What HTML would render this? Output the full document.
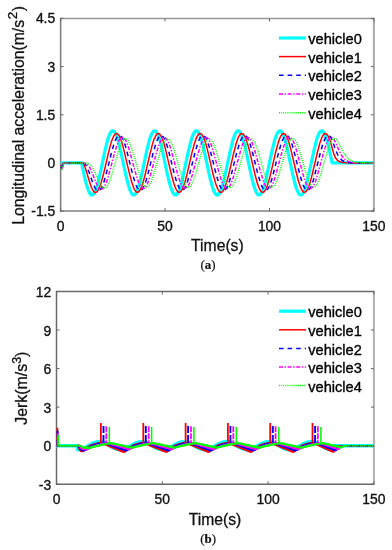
<!DOCTYPE html>
<html><head><meta charset="utf-8"><title>Vehicle platoon acceleration and jerk</title>
<style>
html,body{margin:0;padding:0;background:#fff;width:392px;height:550px;overflow:hidden}
svg{display:block}
.tk{font-family:"Liberation Sans",Arial,sans-serif;font-size:13.9px;fill:#111;stroke:#111;stroke-width:0.35px}
.lg{font-family:"Liberation Sans",Arial,sans-serif;font-size:14.6px;fill:#000;stroke:#000;stroke-width:0.35px}
.al{font-family:"Liberation Sans",Arial,sans-serif;font-size:15.7px;fill:#111;stroke:#111;stroke-width:0.3px}
.cap{font-family:"Liberation Serif","Times New Roman",serif;font-size:12.9px;font-weight:normal;fill:#111;stroke:#111;stroke-width:0.2px}
</style></head><body>
<svg width="392" height="550" viewBox="0 0 392 550">
<defs><clipPath id="c1"><rect x="60.6" y="18.45" width="313.3" height="192.7"/></clipPath><clipPath id="c2"><rect x="56.5" y="291.5" width="317.4" height="192.8"/></clipPath></defs>
<rect width="392" height="550" fill="#fff"/>
<path d="M373.9 17.849999999999998V211.7" stroke="#aaa" stroke-width="2" fill="none"/>
<path d="M374.29999999999995 18.45H60.6" stroke="#999" stroke-width="1.5" fill="none"/>
<path d="M60.6 211.1H374.29999999999995" stroke="#808080" stroke-width="1.5" fill="none"/>
<path d="M60.6 17.75V211.79999999999998" stroke="#7a7a7a" stroke-width="1.5" fill="none"/>
<path d="M60.6 211.1v-3M60.6 18.45v3" stroke="#666" stroke-width="1"/>
<path d="M165.0 211.1v-3M165.0 18.45v3" stroke="#666" stroke-width="1"/>
<path d="M269.5 211.1v-3M269.5 18.45v3" stroke="#666" stroke-width="1"/>
<path d="M373.9 211.1v-3M373.9 18.45v3" stroke="#666" stroke-width="1"/>
<path d="M60.6 211.1h3M373.9 211.1h-3" stroke="#666" stroke-width="1"/>
<path d="M60.6 162.9h3M373.9 162.9h-3" stroke="#666" stroke-width="1"/>
<path d="M60.6 114.8h3M373.9 114.8h-3" stroke="#666" stroke-width="1"/>
<path d="M60.6 66.6h3M373.9 66.6h-3" stroke="#666" stroke-width="1"/>
<path d="M60.6 18.4h3M373.9 18.4h-3" stroke="#666" stroke-width="1"/>
<path d="M60.6 162.9 81.5 162.9 85.1 179.5 86.5 184.9 87.8 189.0 89.1 192.1 90.3 194.1 90.9 194.7 91.6 195.0 92.2 195.0 92.8 194.8 93.4 194.3 94.0 193.6 95.1 191.4 96.4 188.1 97.7 183.8 100.0 174.1 105.4 148.9 106.8 143.3 108.0 138.9 109.3 135.3 110.5 132.8 111.6 131.3 112.2 131.0 112.8 130.8 113.4 130.9 113.9 131.3 115.1 132.7 116.3 135.0 117.5 138.3 118.7 142.8 120.1 148.5 125.8 174.8 128.3 184.8 129.7 189.3 131.0 192.4 131.6 193.5 132.3 194.3 132.9 194.8 133.5 195.0 134.1 195.0 134.7 194.7 135.9 193.3 137.1 191.0 138.3 187.7 139.6 183.2 141.0 177.5 146.7 151.1 149.1 141.0 150.5 136.6 151.9 133.5 153.1 131.6 153.8 131.1 154.4 130.8 155.0 130.9 155.6 131.2 156.2 131.7 156.7 132.5 158.0 134.8 159.2 138.2 160.5 142.6 161.9 148.4 167.5 174.8 170.0 184.8 171.4 189.2 172.7 192.3 174.0 194.3 174.6 194.8 175.3 195.0 175.9 195.0 176.4 194.7 177.0 194.2 177.6 193.4 178.8 191.0 180.1 187.7 181.4 183.2 182.8 177.5 188.4 151.1 190.9 141.1 192.3 136.7 193.6 133.6 194.9 131.6 195.5 131.1 196.1 130.8 196.7 130.9 197.3 131.1 197.9 131.7 198.5 132.5 199.7 134.8 201.0 138.2 202.3 142.6 203.7 148.4 209.3 174.8 211.8 184.8 213.2 189.1 214.5 192.3 215.7 194.2 216.4 194.8 217.0 195.0 217.6 195.0 218.2 194.7 218.8 194.2 219.4 193.4 220.6 191.1 221.8 187.7 223.1 183.2 224.6 177.5 230.2 151.2 232.6 141.2 234.0 136.8 235.3 133.6 236.6 131.7 237.2 131.1 237.9 130.9 238.4 130.9 239.1 131.1 239.6 131.6 240.2 132.4 241.5 134.8 242.7 138.2 244.0 142.7 245.5 148.5 251.1 174.7 253.5 184.6 254.9 189.0 256.2 192.2 257.4 194.1 258.1 194.7 258.7 195.0 259.3 195.0 259.9 194.8 260.5 194.3 261.1 193.5 262.3 191.1 263.6 187.7 264.9 183.2 266.4 177.4 271.9 151.3 274.4 141.3 275.7 137.0 277.0 133.8 278.3 131.8 278.9 131.2 279.5 130.9 280.1 130.8 280.7 131.1 281.4 131.6 282.0 132.4 283.2 134.7 284.5 138.2 285.8 142.7 287.2 148.5 292.8 174.6 295.2 184.5 296.6 188.9 297.9 192.0 299.1 194.0 299.7 194.6 300.3 195.0 300.9 195.0 301.6 194.8 302.2 194.3 302.8 193.6 304.1 191.2 305.4 187.6 306.7 183.1 308.1 177.3 313.7 151.5 316.1 141.6 317.4 137.3 318.7 134.1 319.9 132.0 320.5 131.4 321.1 131.0 321.7 130.8 322.3 131.0 322.9 131.3 323.5 132.0 324.7 134.1 326.0 137.3 327.2 141.4 328.6 146.7 332.1 162.9 373.9 162.9" fill="none" stroke="#00ffff" stroke-width="3.2" stroke-linejoin="round"/>
<path d="M60.6 165.5 62.1 165.4 63.3 163.3 63.7 162.9 82.4 162.9 82.9 163.1 83.4 163.6 83.9 164.5 85.1 167.3 89.8 182.6 90.9 185.9 92.0 188.5 93.1 190.6 94.2 191.9 94.8 192.3 95.4 192.5 95.9 192.4 96.4 192.2 97.0 191.8 97.6 191.1 98.8 189.1 100.1 186.1 101.3 182.1 103.7 173.3 109.1 150.1 110.5 144.9 111.7 140.9 113.0 137.6 114.2 135.4 115.3 134.0 115.9 133.7 116.5 133.5 117.1 133.6 117.6 133.9 118.8 135.2 119.9 137.3 121.1 140.3 122.4 144.4 123.8 149.6 129.5 173.8 132.0 183.1 133.4 187.1 134.7 189.9 136.0 191.7 136.6 192.1 137.2 192.3 137.8 192.3 138.4 192.0 139.6 190.8 140.8 188.7 142.0 185.6 143.3 181.5 144.7 176.3 150.4 152.1 152.8 142.9 154.2 138.8 155.6 136.0 156.8 134.2 157.5 133.7 158.1 133.5 158.7 133.6 159.3 133.8 160.4 135.1 161.6 137.2 162.9 140.3 164.2 144.3 165.6 149.6 171.2 173.8 173.7 183.0 175.1 187.0 176.4 189.9 177.7 191.6 178.3 192.1 179.0 192.3 179.5 192.3 180.1 192.0 180.7 191.6 181.3 190.8 182.5 188.7 183.8 185.6 185.1 181.5 186.5 176.3 192.1 152.1 194.6 142.9 196.0 138.9 197.3 136.1 198.6 134.3 199.2 133.8 199.8 133.5 200.4 133.6 201.0 133.8 201.6 134.3 202.2 135.0 203.4 137.2 204.7 140.3 206.0 144.3 207.4 149.6 213.0 173.8 215.5 182.9 216.9 186.9 218.2 189.8 219.4 191.6 220.1 192.1 220.7 192.3 221.3 192.3 221.9 192.1 222.5 191.6 223.1 190.8 224.3 188.7 225.5 185.6 226.8 181.5 228.3 176.3 233.9 152.2 236.3 143.0 237.7 139.0 239.0 136.1 240.3 134.3 240.9 133.8 241.5 133.6 242.1 133.6 242.7 133.8 243.3 134.3 243.9 135.0 245.2 137.1 246.4 140.3 247.7 144.4 249.2 149.7 254.8 173.7 257.2 182.8 258.6 186.8 259.9 189.7 261.1 191.5 261.8 192.0 262.4 192.3 263.0 192.3 263.6 192.1 264.2 191.6 264.8 190.9 266.0 188.8 267.3 185.6 268.6 181.5 270.1 176.2 275.6 152.3 278.1 143.1 279.4 139.1 280.7 136.2 282.0 134.4 282.6 133.9 283.2 133.6 283.8 133.5 284.4 133.8 285.0 134.2 285.7 134.9 286.9 137.1 288.2 140.3 289.5 144.4 290.9 149.7 296.5 173.5 298.9 182.6 300.3 186.6 301.5 189.5 302.8 191.4 303.4 192.0 304.0 192.3 304.6 192.3 305.3 192.1 305.9 191.7 306.5 191.0 307.8 188.8 309.1 185.5 310.4 181.4 311.8 176.1 317.4 152.5 319.7 143.5 321.1 139.5 322.3 136.6 323.5 134.6 324.1 134.0 324.8 133.7 325.7 133.6 326.6 134.0 327.5 135.1 328.5 136.7 329.5 139.1 330.6 142.3 333.5 152.9 334.6 155.9 335.4 157.7 336.4 159.1 337.5 160.3 338.7 161.2 340.0 161.8 341.6 162.3 343.5 162.6 345.9 162.8 352.5 162.9 373.9 162.9" fill="none" stroke="#ff0000" stroke-width="1.5" stroke-linejoin="round"/>
<path d="M60.6 167.4 61.9 167.4 62.1 167.3 62.4 166.5 63.3 163.6 63.7 162.9 82.8 162.9 83.6 163.0 84.3 163.3 85.1 164.0 85.8 164.9 87.4 167.9 88.9 171.8 92.7 182.7 93.9 185.4 94.9 187.6 96.0 189.3 97.1 190.4 98.2 190.8 99.2 190.5 100.4 189.5 101.6 187.6 102.9 184.7 104.2 181.0 106.5 172.7 111.9 151.0 113.3 146.2 114.6 142.3 115.8 139.3 117.0 137.2 118.2 135.9 118.8 135.6 119.4 135.5 119.9 135.6 120.5 135.8 121.6 137.0 122.8 139.0 124.0 141.8 125.3 145.6 126.7 150.5 132.3 173.1 134.8 181.7 136.2 185.5 137.5 188.1 138.8 189.8 139.5 190.2 140.1 190.4 140.7 190.4 141.3 190.1 142.4 189.0 143.6 187.0 144.9 184.1 146.2 180.3 147.6 175.4 153.2 152.8 155.7 144.2 157.1 140.4 158.4 137.8 159.7 136.1 160.3 135.7 161.0 135.5 161.5 135.5 162.1 135.8 163.3 136.9 164.5 138.9 165.7 141.8 167.0 145.6 168.5 150.5 174.1 173.1 176.6 181.7 178.0 185.4 179.3 188.1 180.6 189.7 181.2 190.2 181.8 190.4 182.4 190.4 183.0 190.1 184.2 189.0 185.4 187.0 186.6 184.1 187.9 180.3 189.3 175.4 195.0 152.8 197.4 144.3 198.8 140.5 200.1 137.8 201.4 136.2 202.1 135.7 202.7 135.5 203.3 135.5 203.9 135.7 205.1 136.9 206.3 138.9 207.5 141.8 208.8 145.6 210.2 150.5 215.9 173.1 218.3 181.6 219.7 185.4 221.0 188.0 222.3 189.7 222.9 190.2 223.6 190.4 224.1 190.4 224.7 190.1 225.9 189.0 227.2 187.0 228.4 184.1 229.7 180.3 231.1 175.4 236.7 152.9 239.2 144.3 240.6 140.6 241.9 137.9 243.1 136.2 243.8 135.7 244.4 135.5 245.0 135.5 245.6 135.7 246.2 136.2 246.8 136.8 248.0 138.8 249.3 141.8 250.6 145.6 252.0 150.5 257.6 173.0 260.1 181.5 261.4 185.3 262.7 187.9 264.0 189.6 264.6 190.1 265.2 190.4 265.9 190.4 266.5 190.2 267.1 189.7 267.7 189.1 268.9 187.1 270.2 184.1 271.5 180.2 272.9 175.3 278.5 153.0 280.9 144.5 282.3 140.8 283.6 138.0 284.8 136.3 285.4 135.8 286.1 135.5 286.7 135.5 287.3 135.7 287.9 136.1 288.5 136.8 289.8 138.8 291.1 141.8 292.4 145.6 293.8 150.5 299.4 172.8 301.8 181.3 303.1 185.0 304.4 187.7 305.6 189.5 306.2 190.0 306.9 190.3 307.5 190.4 308.1 190.2 308.7 189.8 309.4 189.2 310.6 187.1 312.0 184.0 313.3 180.2 314.7 175.3 320.2 153.2 322.6 144.8 323.9 141.1 325.2 138.4 326.4 136.5 327.0 135.9 327.6 135.6 328.4 135.5 329.2 135.8 330.1 136.5 331.0 137.7 332.6 141.1 335.8 150.4 337.8 154.8 338.9 156.8 340.1 158.4 341.5 159.8 342.9 160.8 344.4 161.5 346.1 162.1 348.2 162.5 350.6 162.7 357.1 162.9 373.9 162.9" fill="none" stroke="#0000ff" stroke-width="1.5" stroke-dasharray="4.6 4" stroke-linejoin="round"/>
<path d="M60.6 168.7 61.9 168.7 62.1 168.5 62.4 167.5 63.3 163.8 63.7 162.9 84.1 162.9 85.3 163.1 86.2 163.4 87.2 164.0 88.1 165.0 89.0 166.3 90.0 168.0 91.7 171.8 95.8 182.1 96.9 184.5 97.9 186.3 99.0 187.9 100.1 188.8 101.1 189.1 102.2 188.9 103.4 187.9 104.6 186.1 105.8 183.5 107.2 180.0 109.5 172.1 114.9 151.8 116.3 147.3 117.6 143.8 118.8 140.9 120.0 139.0 121.2 137.8 121.8 137.5 122.4 137.3 122.9 137.4 123.5 137.7 124.6 138.8 125.8 140.6 127.0 143.3 128.3 146.8 129.7 151.3 135.4 172.4 137.8 180.4 139.2 183.9 140.6 186.4 141.8 187.9 142.5 188.3 143.1 188.5 143.7 188.5 144.3 188.3 145.4 187.2 146.6 185.4 147.9 182.7 149.2 179.2 150.6 174.6 156.2 153.5 158.7 145.5 160.1 141.9 161.4 139.5 162.7 138.0 163.4 137.5 164.0 137.4 164.6 137.4 165.2 137.6 166.3 138.7 167.5 140.6 168.8 143.2 170.1 146.8 171.5 151.3 177.1 172.4 179.6 180.4 181.0 183.9 182.3 186.4 183.6 187.9 184.2 188.3 184.9 188.5 185.4 188.5 186.0 188.3 187.2 187.2 188.4 185.3 189.7 182.6 191.0 179.1 192.4 174.5 198.0 153.6 200.5 145.5 201.9 142.0 203.2 139.5 204.4 138.0 205.1 137.6 205.7 137.4 206.3 137.4 206.9 137.6 208.1 138.7 209.3 140.5 210.5 143.2 211.8 146.8 213.3 151.3 218.9 172.3 221.3 180.3 222.7 183.8 224.0 186.3 225.3 187.9 225.9 188.3 226.6 188.5 227.2 188.5 227.8 188.3 228.9 187.2 230.2 185.4 231.4 182.6 232.7 179.1 234.1 174.5 239.8 153.6 242.2 145.6 243.6 142.1 244.9 139.6 246.2 138.0 246.8 137.6 247.4 137.4 248.0 137.4 248.6 137.6 249.8 138.6 251.0 140.5 252.3 143.2 253.6 146.8 255.0 151.3 260.7 172.3 263.1 180.2 264.5 183.7 265.7 186.2 267.0 187.8 267.6 188.3 268.3 188.5 268.9 188.5 269.5 188.3 270.7 187.3 271.9 185.4 273.2 182.6 274.5 179.1 275.9 174.5 281.5 153.6 283.9 145.8 285.3 142.3 286.6 139.7 287.8 138.1 288.5 137.6 289.1 137.4 289.7 137.4 290.3 137.5 290.9 137.9 291.5 138.6 292.8 140.4 294.1 143.2 295.4 146.8 296.8 151.4 302.4 172.2 304.8 180.0 306.1 183.5 307.4 186.0 308.6 187.7 309.3 188.2 309.9 188.5 310.5 188.5 311.1 188.4 311.7 188.0 312.4 187.4 313.6 185.5 315.0 182.6 316.3 179.1 317.7 174.4 323.2 153.9 325.6 146.1 326.9 142.6 328.2 140.1 329.4 138.4 330.0 137.8 330.6 137.5 331.4 137.3 332.2 137.6 333.0 138.2 333.8 139.2 335.3 141.8 339.1 150.7 341.3 154.8 342.5 156.7 343.8 158.3 345.2 159.5 346.6 160.6 348.2 161.3 349.9 161.9 351.9 162.3 354.3 162.6 360.4 162.9 373.9 162.9" fill="none" stroke="#ff00ff" stroke-width="1.5" stroke-dasharray="4 1.6 1.4 1.6" stroke-linejoin="round"/>
<path d="M60.6 170.0 61.9 170.0 62.1 169.8 62.4 168.5 63.3 164.0 63.5 163.2 63.7 162.9 85.5 162.9 87.1 163.1 88.3 163.4 89.4 164.0 90.4 164.9 91.5 166.2 92.6 167.9 94.5 171.7 98.9 181.7 100.0 184.0 101.1 185.7 102.1 187.0 103.2 187.8 104.2 188.1 105.3 187.9 106.5 186.9 107.7 185.2 109.0 182.7 110.3 179.3 112.7 171.9 118.1 152.4 119.5 148.1 120.8 144.7 122.0 142.0 123.2 140.2 124.4 139.0 125.0 138.8 125.6 138.6 126.1 138.7 126.7 139.0 127.8 140.0 129.0 141.8 130.2 144.3 131.5 147.6 132.9 151.9 138.6 171.9 141.1 179.6 142.5 182.9 143.8 185.2 145.0 186.7 145.7 187.1 146.3 187.2 146.9 187.2 147.5 187.0 148.7 186.0 149.8 184.2 151.1 181.7 152.4 178.3 153.8 174.0 159.4 154.0 161.9 146.4 163.3 143.0 164.6 140.7 165.9 139.2 166.6 138.8 167.2 138.7 167.8 138.7 168.4 138.9 169.5 139.9 170.7 141.7 172.0 144.2 173.3 147.6 174.7 151.9 180.3 171.9 182.8 179.5 184.2 182.8 185.5 185.2 186.8 186.6 187.4 187.0 188.1 187.2 188.6 187.2 189.2 187.0 190.4 186.0 191.6 184.2 192.9 181.7 194.1 178.3 195.6 174.0 201.2 154.0 203.7 146.4 205.1 143.1 206.4 140.7 207.6 139.3 208.3 138.8 208.9 138.7 209.5 138.7 210.1 138.9 211.3 139.9 212.5 141.6 213.7 144.2 215.0 147.6 216.5 151.9 222.1 171.9 224.6 179.4 225.9 182.8 227.2 185.1 228.5 186.6 229.1 187.0 229.8 187.2 230.3 187.2 231.0 187.0 232.1 186.0 233.4 184.3 234.6 181.7 235.9 178.3 237.4 173.9 243.0 154.1 245.4 146.5 246.8 143.2 248.1 140.8 249.4 139.3 250.0 138.9 250.6 138.7 251.2 138.7 251.8 138.9 253.0 139.9 254.2 141.6 255.5 144.2 256.8 147.6 258.3 152.0 263.8 171.8 266.3 179.3 267.6 182.6 268.9 185.0 270.2 186.5 270.8 187.0 271.5 187.2 272.1 187.2 272.7 187.0 273.9 186.1 275.1 184.3 276.4 181.7 277.7 178.3 279.1 173.9 284.7 154.2 287.2 146.6 288.5 143.3 289.8 140.9 291.0 139.4 291.7 138.9 292.3 138.7 292.9 138.7 293.5 138.8 294.1 139.2 294.7 139.8 296.0 141.6 297.3 144.3 298.6 147.7 300.0 152.0 305.6 171.6 308.0 179.1 309.3 182.4 310.6 184.8 311.8 186.4 312.4 186.9 313.0 187.1 313.7 187.2 314.3 187.1 314.9 186.7 315.6 186.2 316.9 184.3 318.2 181.6 319.5 178.2 321.0 173.8 326.4 154.3 328.8 146.9 330.1 143.7 331.4 141.3 332.6 139.6 333.8 138.8 334.5 138.6 335.3 138.9 336.2 139.4 337.0 140.3 338.6 142.9 342.8 151.0 345.0 154.8 346.3 156.5 347.6 158.0 349.0 159.2 350.5 160.2 352.0 161.1 353.7 161.7 355.7 162.2 357.9 162.5 363.5 162.8 373.9 162.9" fill="none" stroke="#00ff00" stroke-width="1.5" stroke-dasharray="1 1.1" stroke-linejoin="round"/>
<text x="55.2" y="216.10" class="tk" text-anchor="end">-1.5</text>
<text x="55.2" y="167.94" class="tk" text-anchor="end">0</text>
<text x="55.2" y="119.77" class="tk" text-anchor="end">1.5</text>
<text x="55.2" y="71.61" class="tk" text-anchor="end">3</text>
<text x="55.2" y="23.45" class="tk" text-anchor="end">4.5</text>
<text x="60.60" y="230.6" class="tk" text-anchor="middle">0</text>
<text x="165.03" y="230.6" class="tk" text-anchor="middle">50</text>
<text x="269.47" y="230.6" class="tk" text-anchor="middle">100</text>
<text x="373.90" y="230.6" class="tk" text-anchor="middle">150</text>
<line x1="279" y1="38" x2="306" y2="38" stroke="#00ffff" stroke-width="3.2"/>
<text x="308.3" y="44.10" class="lg">vehicle0</text>
<line x1="279" y1="56.6" x2="306" y2="56.6" stroke="#ff0000" stroke-width="1.5"/>
<text x="308.3" y="62.70" class="lg">vehicle1</text>
<line x1="279" y1="75.3" x2="306" y2="75.3" stroke="#0000ff" stroke-width="1.5" stroke-dasharray="4.6 4"/>
<text x="308.3" y="81.40" class="lg">vehicle2</text>
<line x1="279" y1="94.0" x2="306" y2="94.0" stroke="#ff00ff" stroke-width="1.5" stroke-dasharray="4 1.6 1.4 1.6"/>
<text x="308.3" y="100.10" class="lg">vehicle3</text>
<line x1="279" y1="112.7" x2="306" y2="112.7" stroke="#00ff00" stroke-width="1.5" stroke-dasharray="1 1.1"/>
<text x="308.3" y="118.80" class="lg">vehicle4</text>
<text x="217.4" y="251.4" class="al" text-anchor="middle">Time(s)</text>
<text transform="translate(23.7,115.4) rotate(-90)" class="al" style="font-size:15.75px" text-anchor="middle">Longitudinal acceleration(m/s<tspan dx="0.6" dy="-6.3" font-size="13.6">2</tspan><tspan dx="0.4" dy="6.3">)</tspan></text>
<text x="208.1" y="268.6" class="cap" text-anchor="middle">(<tspan font-weight="bold">a</tspan>)</text>
<path d="M373.9 290.9V484.85" stroke="#b0b0b0" stroke-width="2" fill="none"/>
<path d="M374.29999999999995 291.5H56.5" stroke="#6a6a6a" stroke-width="1.5" fill="none"/>
<path d="M56.5 484.25H374.29999999999995" stroke="#6a6a6a" stroke-width="1.5" fill="none"/>
<path d="M56.5 290.8V484.95" stroke="#6a6a6a" stroke-width="1.5" fill="none"/>
<path d="M56.5 484.25v-3M56.5 291.5v3" stroke="#666" stroke-width="1"/>
<path d="M162.3 484.25v-3M162.3 291.5v3" stroke="#666" stroke-width="1"/>
<path d="M268.1 484.25v-3M268.1 291.5v3" stroke="#666" stroke-width="1"/>
<path d="M373.9 484.25v-3M373.9 291.5v3" stroke="#666" stroke-width="1"/>
<path d="M56.5 484.2h3M373.9 484.2h-3" stroke="#666" stroke-width="1"/>
<path d="M56.5 445.7h3M373.9 445.7h-3" stroke="#666" stroke-width="1"/>
<path d="M56.5 407.1h3M373.9 407.1h-3" stroke="#666" stroke-width="1"/>
<path d="M56.5 368.6h3M373.9 368.6h-3" stroke="#666" stroke-width="1"/>
<path d="M56.5 330.0h3M373.9 330.0h-3" stroke="#666" stroke-width="1"/>
<path d="M56.5 291.5h3M373.9 291.5h-3" stroke="#666" stroke-width="1"/>
<path d="M56.5 445.7 77.6 445.7 77.7 449.7 79.9 449.5 82.3 448.8 85.1 447.5 90.8 444.2 93.3 442.9 96.1 442.0 98.7 441.7 101.0 441.9 103.5 442.6 106.2 443.9 111.9 447.2 114.5 448.5 117.2 449.4 119.8 449.7 122.2 449.5 124.6 448.8 127.4 447.5 133.1 444.2 135.6 442.9 138.4 442.0 141.0 441.7 143.3 441.9 145.8 442.6 148.5 443.9 154.3 447.2 156.8 448.5 159.5 449.4 162.1 449.7 164.5 449.5 167.0 448.8 169.7 447.5 175.4 444.2 177.9 442.9 180.7 442.0 183.2 441.7 185.6 441.9 188.1 442.6 190.9 443.9 196.6 447.2 199.1 448.4 201.8 449.4 204.4 449.7 206.8 449.5 209.3 448.8 212.0 447.5 217.7 444.2 220.2 443.0 222.9 442.0 225.5 441.7 227.9 441.9 230.4 442.6 233.2 443.9 238.9 447.2 241.4 448.4 244.1 449.4 246.6 449.7 249.1 449.5 251.6 448.8 254.4 447.5 260.0 444.2 262.5 443.0 265.2 442.0 267.7 441.7 270.2 441.9 272.8 442.6 275.5 443.9 281.2 447.2 283.6 448.4 286.3 449.4 288.8 449.7 291.3 449.5 293.9 448.8 296.7 447.5 302.3 444.2 304.7 443.0 307.4 442.1 309.9 441.7 312.5 441.8 315.1 442.6 317.9 443.9 323.4 447.1 325.8 448.4 328.4 449.3 330.9 449.7 331.6 449.7 331.6 445.7 373.9 445.7" fill="none" stroke="#00ffff" stroke-width="3.4" stroke-linejoin="round"/>
<path d="M78.1 445.7 78.3 445.7 79.1 448.0 80.2 449.7 81.1 450.8 81.6 451.0 82.0 451.0 82.6 450.8 83.5 450.4 86.7 448.1 88.5 446.9 91.9 445.3 94.3 444.5 97.0 443.8 101.0 443.1 101.9 443.1 103.4 443.4 105.6 444.2 123.2 451.5 123.6 451.6 124.2 451.5 124.9 451.2 129.7 447.6 131.5 446.6 133.5 445.6 135.8 444.7 138.1 444.0 140.9 443.4 143.6 443.0 145.2 443.3 147.4 444.0 165.9 451.6 166.5 451.5 167.2 451.2 172.0 447.6 173.8 446.5 175.8 445.6 178.1 444.7 180.5 444.0 183.2 443.4 186.0 443.0 187.5 443.3 189.8 444.0 208.2 451.6 208.8 451.5 209.5 451.2 214.3 447.6 216.1 446.6 218.1 445.6 220.4 444.7 222.8 444.0 225.5 443.5 228.3 443.0 229.8 443.3 232.1 444.0 250.5 451.6 251.1 451.5 251.8 451.2 256.7 447.6 258.4 446.6 260.5 445.6 262.7 444.7 265.1 444.0 267.7 443.5 270.5 443.1 272.1 443.3 274.4 444.0 292.8 451.6 293.4 451.5 294.1 451.2 299.0 447.6 300.7 446.6 302.7 445.6 305.0 444.7 307.3 444.1 309.8 443.5 312.7 443.1 314.2 443.3 316.6 444.1 333.1 451.5 333.5 451.4 333.9 450.9 335.1 448.7" fill="none" stroke="#ff0000" stroke-width="2.7" stroke-linejoin="round"/>
<path d="M56.5 445.7 78.3 445.7 79.1 447.8 80.0 449.5 81.1 450.7 81.5 451.0 82.0 451.0 82.6 450.9 83.4 450.4 86.7 448.1 88.5 446.9 91.9 445.3 94.1 444.5 96.6 443.8 99.9 443.2 101.7 443.1 103.2 443.4 105.4 444.2 123.2 451.5 123.6 451.6 124.2 451.5 124.9 451.2 129.7 447.6 131.5 446.6 133.5 445.6 135.8 444.7 138.1 444.0 140.8 443.5 143.6 443.0 145.1 443.3 147.4 444.0 165.5 451.5 165.9 451.6 166.5 451.5 167.2 451.2 172.0 447.6 173.8 446.6 175.8 445.6 178.1 444.7 180.4 444.0 183.1 443.5 185.9 443.1 187.4 443.3 189.7 444.0 207.8 451.5 208.3 451.6 208.8 451.5 209.5 451.2 214.3 447.6 216.1 446.6 218.1 445.6 220.4 444.7 222.7 444.0 225.4 443.5 228.2 443.1 229.7 443.3 232.0 444.0 250.1 451.5 250.6 451.6 251.2 451.5 251.8 451.2 256.6 447.6 258.4 446.6 260.4 445.6 262.7 444.7 265.0 444.1 267.7 443.5 270.5 443.1 272.0 443.2 274.3 444.0 292.9 451.6 293.5 451.5 294.1 451.2 299.0 447.6 300.7 446.6 302.7 445.6 304.9 444.8 307.3 444.1 309.8 443.5 312.7 443.1 314.2 443.3 316.5 444.1 333.1 451.5 333.5 451.4 334.0 450.9 335.3 448.2 336.2 447.1 337.4 446.3 339.0 445.9 343.7 445.7 373.9 445.7" fill="none" stroke="#ff0000" stroke-width="1.5" stroke-linejoin="round"/>
<path d="M78.7 445.7 78.9 445.7 79.9 448.0 80.8 449.1 82.2 449.9 83.2 450.2 83.7 450.3 85.1 449.8 90.6 446.6 94.1 445.1 96.5 444.4 99.2 443.8 103.0 443.1 104.4 443.1 105.8 443.3 108.0 444.0 125.5 450.1 126.1 450.2 126.7 450.0 127.5 449.7 133.1 446.5 136.4 445.1 141.2 443.8 144.4 443.3 146.5 443.0 148.0 443.3 150.1 443.9 167.8 450.1 168.4 450.2 169.1 450.0 169.8 449.7 175.4 446.5 178.7 445.1 183.5 443.8 186.6 443.3 188.8 443.0 190.2 443.3 192.4 443.9 210.1 450.1 210.7 450.2 211.9 449.8 217.1 446.8 221.0 445.1 225.7 443.9 228.8 443.3 231.0 443.0 232.5 443.3 234.7 443.9 252.5 450.1 253.0 450.2 254.2 449.8 259.4 446.8 263.3 445.2 268.0 443.9 271.1 443.3 273.3 443.0 274.8 443.2 277.0 443.9 294.8 450.1 295.3 450.2 296.6 449.8 301.7 446.8 305.6 445.2 310.2 443.9 315.6 443.0 317.1 443.3 319.4 444.0 335.4 450.0 335.8 450.0 336.3 449.6 337.4 448.0" fill="none" stroke="#0000ff" stroke-width="2.5" stroke-linejoin="round"/>
<path d="M56.5 445.7 78.9 445.7 79.7 447.6 80.7 449.0 81.9 449.8 83.5 450.3 84.8 449.9 89.9 447.0 93.8 445.2 98.5 443.9 103.9 443.0 105.4 443.2 107.7 443.9 125.5 450.1 126.0 450.2 127.3 449.8 132.4 446.9 136.3 445.2 140.8 443.9 146.2 443.0 147.7 443.2 150.0 443.9 167.8 450.1 168.3 450.2 169.6 449.8 174.7 446.9 178.6 445.2 183.1 443.9 188.5 443.0 190.0 443.2 192.3 443.8 210.1 450.1 210.6 450.2 211.9 449.8 217.0 446.9 220.9 445.2 225.4 443.9 230.8 443.0 232.3 443.2 234.6 443.8 252.9 450.2 254.2 449.8 259.3 446.9 263.2 445.2 267.7 443.9 273.1 443.0 274.6 443.2 276.9 443.8 295.2 450.2 296.6 449.8 301.6 446.9 305.4 445.2 310.0 443.9 315.3 443.0 316.8 443.2 319.1 443.9 335.5 450.1 335.9 449.9 336.3 449.6 337.7 447.6 338.5 446.8 339.7 446.2 341.3 445.9 345.8 445.7 373.9 445.7" fill="none" stroke="#0000ff" stroke-width="1.5" stroke-dasharray="4.6 3" stroke-linejoin="round"/>
<path d="M79.6 445.7 79.8 445.7 80.3 446.8 80.9 447.7 82.0 448.7 83.6 449.3 86.0 449.5 87.5 449.1 93.4 446.4 97.1 445.2 102.7 443.9 106.4 443.3 107.3 443.3 108.7 443.5 110.8 444.0 127.9 449.1 128.6 449.2 130.1 448.9 135.6 446.5 139.6 445.2 144.8 444.0 149.4 443.3 150.9 443.5 153.0 444.0 170.3 449.1 170.9 449.2 172.4 448.9 177.9 446.5 181.9 445.2 187.0 444.0 191.7 443.3 193.1 443.5 195.3 444.0 212.6 449.1 213.2 449.2 214.7 448.9 220.2 446.5 224.2 445.2 229.2 444.0 234.0 443.3 235.4 443.5 237.6 444.0 254.9 449.1 255.5 449.2 257.0 448.9 262.6 446.5 266.5 445.2 271.4 444.0 276.3 443.3 277.7 443.5 279.9 444.0 297.2 449.1 297.8 449.2 299.3 448.9 304.9 446.5 308.8 445.2 313.6 444.1 318.5 443.3 320.0 443.5 322.3 444.1 337.9 449.1 338.3 449.1 338.8 448.8 339.9 447.5" fill="none" stroke="#ff00ff" stroke-width="2.1" stroke-linejoin="round"/>
<path d="M56.5 445.7 79.8 445.7 80.7 447.5 81.8 448.6 83.4 449.2 85.7 449.5 87.2 449.2 92.8 446.7 97.0 445.3 101.7 444.1 106.8 443.3 108.3 443.4 110.5 444.0 127.9 449.1 128.5 449.2 130.0 448.9 135.6 446.5 139.5 445.2 144.2 444.1 149.2 443.3 150.6 443.4 152.9 444.0 170.3 449.1 170.8 449.2 172.4 448.9 177.9 446.5 181.9 445.2 186.5 444.1 191.5 443.3 193.0 443.4 195.2 444.0 212.6 449.1 213.1 449.2 214.7 448.9 220.2 446.5 224.2 445.2 228.8 444.1 233.8 443.3 235.3 443.4 237.5 444.0 255.4 449.2 257.0 448.9 262.5 446.5 266.5 445.2 271.1 444.1 276.1 443.3 277.6 443.4 279.8 444.0 297.7 449.2 299.3 448.9 304.9 446.5 308.8 445.2 313.2 444.1 318.3 443.3 319.8 443.4 322.0 444.0 338.0 449.1 338.4 449.0 338.8 448.7 340.1 447.2 341.0 446.6 342.1 446.1 343.6 445.8 348.1 445.7 373.9 445.7" fill="none" stroke="#ff00ff" stroke-width="1.5" stroke-dasharray="4 1.4 1.4 1.4" stroke-linejoin="round"/>
<path d="M80.6 445.7 80.8 445.7 81.4 446.4 82.0 447.0 83.3 447.5 85.3 447.8 88.6 447.8 90.9 447.4 104.6 444.1 109.4 443.2 110.5 443.1 113.7 443.6 130.5 447.4 131.6 447.5 134.1 447.1 148.2 443.9 151.7 443.1 152.7 443.1 156.0 443.6 172.8 447.4 173.8 447.5 176.1 447.2 188.3 444.3 194.0 443.2 194.9 443.1 198.3 443.6 215.1 447.4 216.1 447.5 218.4 447.2 230.6 444.3 236.3 443.2 237.2 443.1 240.7 443.6 257.5 447.4 258.4 447.5 260.7 447.2 272.9 444.4 278.6 443.2 279.5 443.1 283.0 443.6 299.8 447.4 300.7 447.5 303.1 447.2 314.9 444.4 320.9 443.2 321.8 443.1 323.3 443.2 325.5 443.7 340.5 447.4 341.3 447.3 342.5 446.6" fill="none" stroke="#00ff00" stroke-width="2.4" stroke-linejoin="round"/>
<path d="M58.4 445.7 80.8 445.7" fill="none" stroke="#00ff00" stroke-width="1.7" stroke-linejoin="round"/>
<path d="M341.4 447.3 342.8 446.5 343.6 446.1 344.9 445.9 346.7 445.8" fill="none" stroke="#00ff00" stroke-width="1.6" stroke-linejoin="round"/>
<path d="M56.5 445.7 80.8 445.7 81.9 446.9 83.2 447.5 85.1 447.8 88.3 447.8 90.8 447.4 105.1 444.0 109.4 443.2 110.4 443.1 113.7 443.6 130.5 447.4 131.5 447.5 133.8 447.2 146.1 444.3 151.7 443.2 152.7 443.1 156.0 443.6 172.8 447.4 173.8 447.5 176.1 447.2 188.3 444.3 194.0 443.2 194.9 443.1 198.3 443.6 215.1 447.4 216.1 447.5 218.4 447.2 230.6 444.3 236.3 443.2 237.2 443.1 240.7 443.6 257.5 447.4 258.4 447.5 260.7 447.2 272.8 444.4 278.6 443.2 279.5 443.1 280.9 443.2 283.1 443.6 300.5 447.5 303.0 447.2 314.3 444.6 321.6 443.1 323.1 443.2 325.3 443.6 340.6 447.4 341.4 447.2 342.7 446.5 343.6 446.1 346.1 445.8 373.9 445.7" fill="none" stroke="#00ff00" stroke-width="1.6" stroke-dasharray="1 1" stroke-linejoin="round"/>
<path d="M57.4 427.7V445.7" stroke="#ff0000" stroke-width="1.8"/>
<path d="M100.9 423.0V443.1" stroke="#ff0000" stroke-width="1.8"/>
<path d="M143.3 423.0V443.1" stroke="#ff0000" stroke-width="1.8"/>
<path d="M185.6 423.0V443.1" stroke="#ff0000" stroke-width="1.8"/>
<path d="M227.9 423.0V443.1" stroke="#ff0000" stroke-width="1.8"/>
<path d="M270.2 423.0V443.1" stroke="#ff0000" stroke-width="1.8"/>
<path d="M312.5 423.0V443.1" stroke="#ff0000" stroke-width="1.8"/>
<path d="M57.6 430.7V445.7" stroke="#0000ff" stroke-width="1.9" stroke-dasharray="7 2"/>
<path d="M103.5 425.9V443.1" stroke="#0000ff" stroke-width="1.9" stroke-dasharray="7 2"/>
<path d="M145.8 425.9V443.1" stroke="#0000ff" stroke-width="1.9" stroke-dasharray="7 2"/>
<path d="M188.1 425.9V443.1" stroke="#0000ff" stroke-width="1.9" stroke-dasharray="7 2"/>
<path d="M230.4 425.9V443.1" stroke="#0000ff" stroke-width="1.9" stroke-dasharray="7 2"/>
<path d="M272.8 425.9V443.1" stroke="#0000ff" stroke-width="1.9" stroke-dasharray="7 2"/>
<path d="M315.1 425.9V443.1" stroke="#0000ff" stroke-width="1.9" stroke-dasharray="7 2"/>
<path d="M57.9 432.9V445.7" stroke="#ff00ff" stroke-width="1.8" stroke-dasharray="6 1"/>
<path d="M106.3 426.3V443.3" stroke="#ff00ff" stroke-width="1.8" stroke-dasharray="6 1"/>
<path d="M148.7 426.3V443.3" stroke="#ff00ff" stroke-width="1.8" stroke-dasharray="6 1"/>
<path d="M191.0 426.3V443.3" stroke="#ff00ff" stroke-width="1.8" stroke-dasharray="6 1"/>
<path d="M233.3 426.3V443.3" stroke="#ff00ff" stroke-width="1.8" stroke-dasharray="6 1"/>
<path d="M275.6 426.3V443.3" stroke="#ff00ff" stroke-width="1.8" stroke-dasharray="6 1"/>
<path d="M317.9 426.3V443.3" stroke="#ff00ff" stroke-width="1.8" stroke-dasharray="6 1"/>
<path d="M58.2 434.8V445.7" stroke="#00ff00" stroke-width="1.6"/>
<path d="M109.3 426.9V443.2" stroke="#00ff00" stroke-width="1.6"/>
<path d="M151.6 426.9V443.2" stroke="#00ff00" stroke-width="1.6"/>
<path d="M193.9 426.9V443.2" stroke="#00ff00" stroke-width="1.6"/>
<path d="M236.3 426.9V443.2" stroke="#00ff00" stroke-width="1.6"/>
<path d="M278.6 426.9V443.2" stroke="#00ff00" stroke-width="1.6"/>
<path d="M320.9 426.9V443.2" stroke="#00ff00" stroke-width="1.6"/>
<text x="51.2" y="489.85" class="tk" text-anchor="end">-3</text>
<text x="51.2" y="451.30" class="tk" text-anchor="end">0</text>
<text x="51.2" y="412.75" class="tk" text-anchor="end">3</text>
<text x="51.2" y="374.20" class="tk" text-anchor="end">6</text>
<text x="51.2" y="335.65" class="tk" text-anchor="end">9</text>
<text x="51.2" y="297.10" class="tk" text-anchor="end">12</text>
<text x="56.50" y="503.6" class="tk" text-anchor="middle">0</text>
<text x="162.30" y="503.6" class="tk" text-anchor="middle">50</text>
<text x="268.10" y="503.6" class="tk" text-anchor="middle">100</text>
<text x="373.90" y="503.6" class="tk" text-anchor="middle">150</text>
<line x1="279" y1="311.2" x2="306" y2="311.2" stroke="#00ffff" stroke-width="3.2"/>
<text x="308.3" y="317.30" class="lg">vehicle0</text>
<line x1="279" y1="329.8" x2="306" y2="329.8" stroke="#ff0000" stroke-width="1.5"/>
<text x="308.3" y="335.90" class="lg">vehicle1</text>
<line x1="279" y1="348.4" x2="306" y2="348.4" stroke="#0000ff" stroke-width="1.5" stroke-dasharray="4.6 4"/>
<text x="308.3" y="354.50" class="lg">vehicle2</text>
<line x1="279" y1="367.0" x2="306" y2="367.0" stroke="#ff00ff" stroke-width="1.5" stroke-dasharray="4 1.6 1.4 1.6"/>
<text x="308.3" y="373.10" class="lg">vehicle3</text>
<line x1="279" y1="385.6" x2="306" y2="385.6" stroke="#00ff00" stroke-width="1.5" stroke-dasharray="1 1.1"/>
<text x="308.3" y="391.70" class="lg">vehicle4</text>
<text x="215" y="525" class="al" text-anchor="middle">Time(s)</text>
<text transform="translate(27.4,388.2) rotate(-90)" class="al" style="font-size:15.9px" text-anchor="middle">Jerk(m/s<tspan dy="-6.5" font-size="12.5">3</tspan><tspan dy="6.5">)</tspan></text>
<text x="208.1" y="542.5" class="cap" text-anchor="middle">(<tspan font-weight="bold">b</tspan>)</text>
</svg>
</body></html>
